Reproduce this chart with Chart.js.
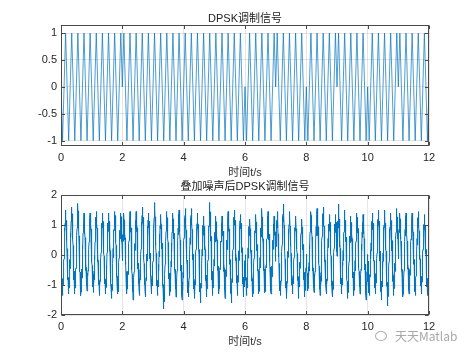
<!DOCTYPE html>
<html><head><meta charset="utf-8">
<script src="https://cdn.jsdelivr.net/npm/chart.js@4.4.1/dist/chart.umd.min.js"></script>
<style>
html,body{margin:0;padding:0;background:#fff;width:474px;height:355px;overflow:hidden;position:relative;}
canvas{position:absolute;left:0;}
#c1{top:0;width:474px;height:178px;}
#c2{top:178px;width:474px;height:177px;}
#wm{position:absolute;left:375px;top:327px;font:12px "Noto Sans CJK SC","Liberation Sans",sans-serif;color:#a8a8a8;white-space:nowrap;display:flex;align-items:center;}
#wm i{display:inline-block;width:10px;height:8px;border:1px solid #b0b0b0;border-radius:50%;margin-right:8px;}
</style></head><body>
<canvas id="c1" width="474" height="178"></canvas>
<canvas id="c2" width="474" height="177"></canvas>
<div id="wm"><i></i>天天Matlab</div>
<script>
// ---- data ----
const xTicks = [0, 2, 4, 6, 8, 10, 12];
const yTicksTop = [-1, -0.5, 0, 0.5, 1];
const yTicksBottom = [-2, -1, 0, 1, 2];
const titles = ['DPSK调制信号', '叠加噪声后DPSK调制信号'];
const xLabel = '时间t/s';
// phase sign of each 1 s symbol
const bitSigns = [-1, -1, 1, 1, 1, 1, -1, 1, -1, 1, -1, 1];
const cyclesPerBit = 5;
// one carrier cycle as drawn (zig-zag between ±1)
const carrierShape = [0, 1, 0, -1];
// finer cycle shape for the noisy trace (peak at index 5, trough at 15)
const fineShape = [0, 0.31, 0.59, 0.81, 0.95, 1, 0.95, 0.81, 0.59, 0.31,
  0, -0.31, -0.59, -0.81, -0.95, -1, -0.95, -0.81, -0.59, -0.31];
// per-cycle peak / trough of noisy trace
const noisyPeaks = [
  1.5, 1.6, 1.72, 1.4, 1.4, 1.45, 1.4, 1.4, 1.45, 1.4,
  1.4, 1.45, 1.45, 1.6, 1.4, 1.75, 1.35, 1.45, 1.4, 1.5,
  1.55, 1.55, 1.4, 1.3, 1.75, 1.3, 1.3, 1.45, 1.5, 1.35,
  1.2, 1.35, 1.55, 1.45, 1.3, 1.45, 1.7, 1.45, 1.3, 1.2,
  1.45, 1.55, 1.6, 1.35, 1.35, 1.7, 1.5, 1.3, 1.4, 1.35,
  1.4, 1.5, 1.5, 1.4, 1.55, 1.4, 1.4, 1.4, 1.45, 1.35];
const noisyTroughs = [
  -1.35, -1.3, -1.3, -1.35, -1.2, -1.25, -1.35, -1.3, -1.45, -1.3,
  -1.3, -1.5, -1.35, -1.4, -1.3, -1.35, -1.8, -1.35, -1.4, -1.5,
  -1.4, -1.45, -1.6, -1.4, -1.35, -1.3, -1.45, -1.6, -1.35, -1.4,
  -1.35, -1.4, -1.3, -1.25, -1.3, -1.35, -1.45, -1.3, -1.45, -1.4,
  -1.2, -1.25, -1.35, -1.3, -1.4, -1.3, -1.45, -1.35, -1.3, -1.5,
  -1.35, -1.3, -1.5, -1.7, -1.35, -1.4, -1.3, -1.35, -1.3, -1.35];
// small ripple texture seen on the noisy trace
const noiseRipple = [0.12, -0.08, 0.21, -0.15, 0.03, 0.18, -0.22, 0.07, -0.04, 0.15,
  -0.19, 0.09, 0.24, -0.11, 0.02, -0.2, 0.13, -0.06, 0.17, -0.13, 0.05, -0.24,
  0.1, 0.19, -0.03, -0.16, 0.08, 0.22, -0.09, 0.14, -0.18, 0.01, 0.16, -0.12,
  0.06, -0.21, 0.11];

// ---- build series ----
const cleanPts = [];
bitSigns.forEach((s, k) => {
  const n = cyclesPerBit * carrierShape.length;
  for (let c = 0; c < cyclesPerBit; c++) {
    carrierShape.forEach((v, j) => {
      cleanPts.push({x: k + (c * carrierShape.length + j) / n, y: s * v});
    });
  }
});
cleanPts.push({x: bitSigns.length, y: 0});

const noisyPts = [];
let ni = 0;
const half = fineShape.length / 2;
const rip = () => noiseRipple[(ni++) % noiseRipple.length];
bitSigns.forEach((s, k) => {
  const n = cyclesPerBit * fineShape.length;
  for (let c = 0; c < cyclesPerBit; c++) {
    const ci = k * cyclesPerBit + c;
    fineShape.forEach((b, j) => {
      const u = s * b;
      const amp = u >= 0 ? noisyPeaks[ci] : -noisyTroughs[ci];
      const x0 = k + (c * fineShape.length + j) / n;
      const base = u * amp * 0.8;
      if (j === half / 2 || j === half + half / 2) {
        noisyPts.push({x: x0, y: u > 0 ? noisyPeaks[ci] : noisyTroughs[ci]});
        noisyPts.push({x: x0 + 0.5 / n, y: base + rip()});
      } else {
        noisyPts.push({x: x0, y: base + rip()});
        noisyPts.push({x: x0 + 0.5 / n, y: base + rip()});
      }
    });
  }
});
noisyPts.push({x: bitSigns.length, y: rip()});

// ---- drawing ----
const AX = '#262626';
const tickFont = {family: '"Liberation Sans", Arial, sans-serif', size: 11, lineHeight: 1.2};
const cjkFont = {family: '"Liberation Sans", "Noto Sans CJK SC", sans-serif', size: 11, lineHeight: 1, weight: 'normal'};

const boxPlugin = {
  id: 'box',
  afterDatasetsDraw(chart) {
    const {ctx, chartArea: a, scales: {x, y}} = chart;
    ctx.save();
    ctx.strokeStyle = '#4a4a4a';
    ctx.lineWidth = 1;
    const l = Math.round(a.left) + 0.5, t = Math.round(a.top) + 0.5;
    const r = Math.round(a.right) - 0.5, bt = Math.round(a.bottom) - 0.5;
    ctx.strokeRect(l, t, r - l, bt - t);
    const L = 3.5;
    ctx.beginPath();
    x.ticks.forEach(tk => {
      const px = Math.round(x.getPixelForValue(tk.value)) + 0.5;
      ctx.moveTo(px, bt); ctx.lineTo(px, bt - L);
      ctx.moveTo(px, t); ctx.lineTo(px, t + L);
    });
    y.ticks.forEach(tk => {
      const py = Math.round(y.getPixelForValue(tk.value)) + 0.5;
      ctx.moveTo(l, py); ctx.lineTo(l + L, py);
      ctx.moveTo(r, py); ctx.lineTo(r - L, py);
    });
    ctx.stroke();
    ctx.restore();
  }
};

function makeChart(id, pts, yMin, yMax, yTicks, title, tPad, xAxisH, xTitlePadBottom, lw) {
  return new Chart(document.getElementById(id), {
    type: 'line',
    data: {datasets: [{data: pts, borderColor: '#0072BD', borderWidth: lw,
      pointRadius: 0, tension: 0, fill: false}]},
    options: {
      responsive: false, animation: false, events: [],
      layout: {padding: {left: 0, right: 45, top: 0, bottom: 0}},
      plugins: {
        legend: {display: false}, tooltip: {enabled: false},
        title: {display: true, fullSize: false, text: title, color: '#222', font: cjkFont, padding: tPad}
      },
      scales: {
        x: {
          type: 'linear', min: 0, max: 12,
          afterBuildTicks: s => { s.ticks = xTicks.map(v => ({value: v})); },
          afterFit: s => { s.height = xAxisH; },
          grid: {color: 'rgba(0,0,0,0.1)', drawTicks: false, lineWidth: 1},
          border: {display: false},
          ticks: {color: AX, font: tickFont, padding: 5, maxRotation: 0, autoSkip: false},
          title: {display: true, text: xLabel, color: '#333', font: cjkFont,
            padding: {top: 0, bottom: xTitlePadBottom}}
        },
        y: {
          type: 'linear', min: yMin, max: yMax,
          afterBuildTicks: s => { s.ticks = yTicks.map(v => ({value: v})); },
          afterFit: s => { s.width = 61; },
          grid: {color: 'rgba(0,0,0,0.1)', drawTicks: false, lineWidth: 1},
          border: {display: false},
          ticks: {color: AX, font: tickFont, padding: 4, callback: v => String(v)}
        }
      }
    },
    plugins: [boxPlugin]
  });
}

makeChart('c1', cleanPts, -1.1, 1.15, yTicksTop, titles[0], {top: 13.5, bottom: 0.5}, 32, 0, 0.7);
makeChart('c2', noisyPts, -2, 2, yTicksBottom, titles[1], {top: 3.5, bottom: 2.5}, 40, 7.5, 1);
</script>
</body></html>
